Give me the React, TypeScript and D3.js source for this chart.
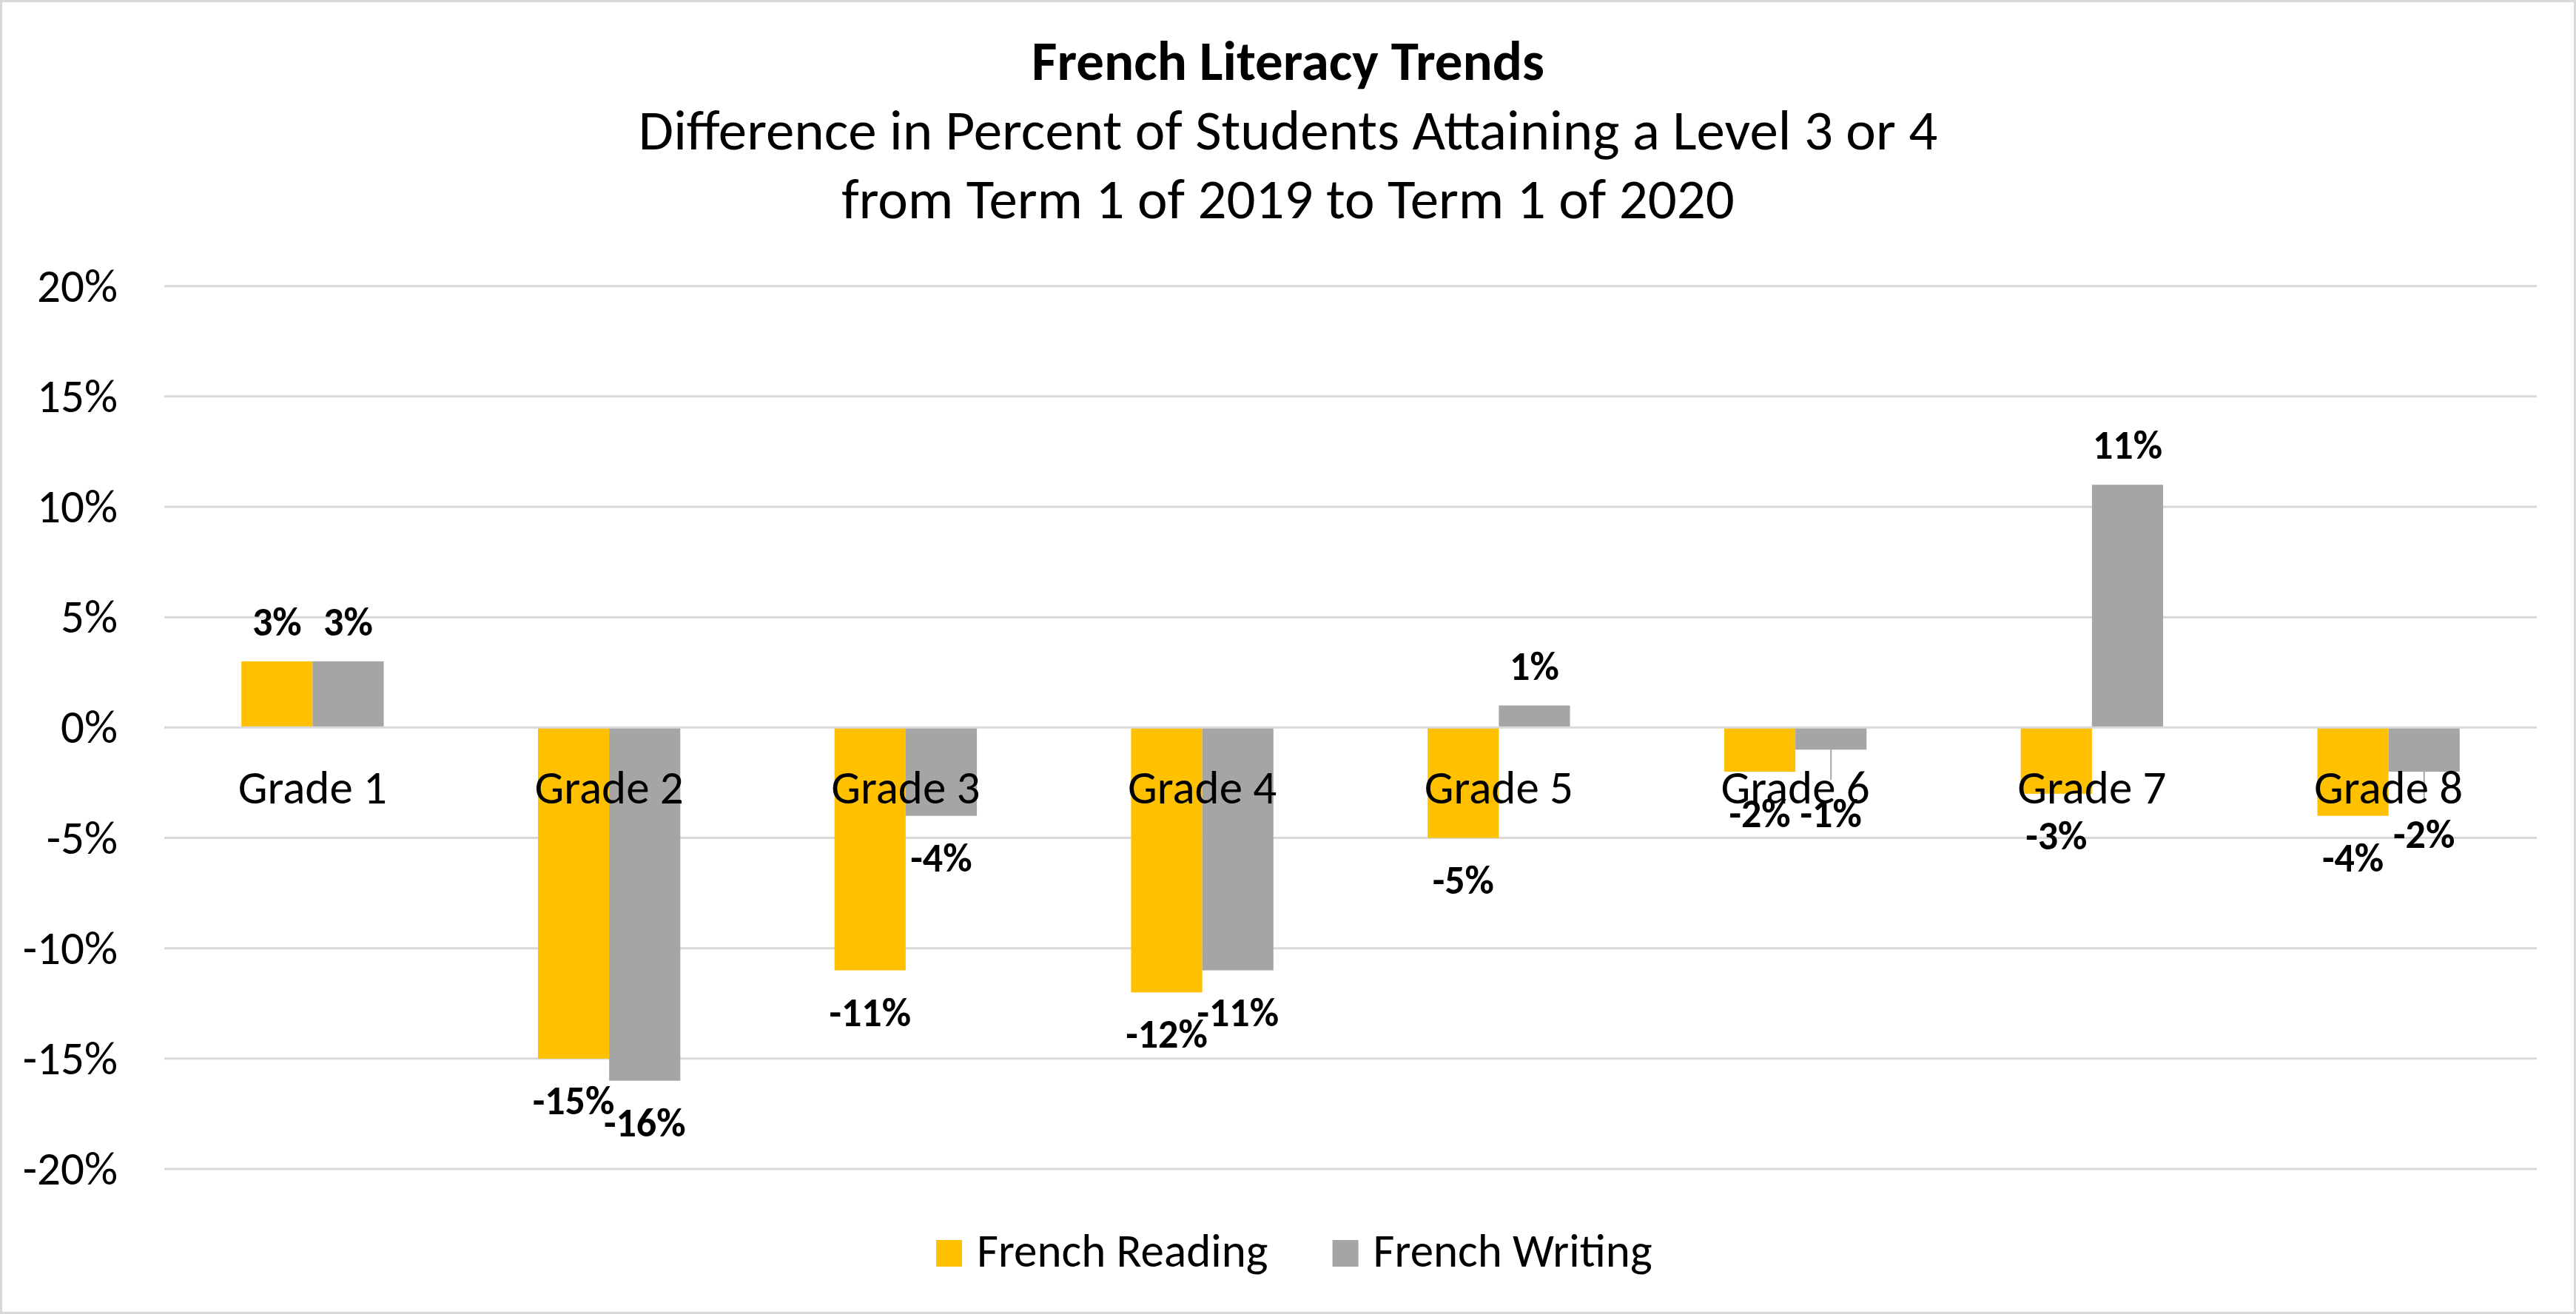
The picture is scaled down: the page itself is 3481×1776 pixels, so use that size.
import React from "react";
import * as d3 from "d3";

const categories = [
  "Grade 1",
  "Grade 2",
  "Grade 3",
  "Grade 4",
  "Grade 5",
  "Grade 6",
  "Grade 7",
  "Grade 8",
];
const seriesNames = ["French Reading", "French Writing"];
const frenchReading = [3, -15, -11, -12, -5, -2, -3, -4];
const frenchWriting = [3, -16, -4, -11, 1, -1, 11, -2];
const yTicks = [-20, -15, -10, -5, 0, 5, 10, 15, 20];
const titleLines = [
  "Difference in Percent of Students Attaining a Level 3 or 4",
  "from Term 1 of 2019 to Term 1 of 2020",
];

const W = 3481;
const H = 1776;
const FONT = "Carlito, Lato, sans-serif";
const colors = ["#FFC000", "#A5A5A5"];

// labels that Excel had dragged down (with leader lines)
const labelNudge: Record<string, number> = {
  "Grade 6|French Writing": 30,
  "Grade 8|French Writing": 28,
};

const App = () => {
  const x = d3
    .scaleBand()
    .domain(categories)
    .range([222, 3428])
    .paddingInner(0.52)
    .paddingOuter(0.26);
  const xSub = d3
    .scaleBand()
    .domain(seriesNames)
    .range([0, x.bandwidth()]);
  const y = d3.scaleLinear().domain([-20, 20]).range([1580, 386.7]);

  const series = [frenchReading, frenchWriting];
  const bars = categories.flatMap((cat, i) =>
    seriesNames.map((s, j) => ({ cat, s, j, v: series[j][i] }))
  );
  const barCenter = (b: { cat: string; s: string }) =>
    (x(b.cat) ?? 0) + (xSub(b.s) ?? 0) + xSub.bandwidth() / 2;

  return (
    <svg
      width={W}
      height={H}
      style={{ position: "absolute", left: 0, top: 0 }}
      fontFamily={FONT}
    >
      <rect x={0} y={0} width={W} height={H} fill="#fff" />
      <rect
        x={1.5}
        y={1.5}
        width={W - 3}
        height={H - 3}
        fill="none"
        stroke="#D9D9D9"
        strokeWidth={3}
      />

      {/* titles */}
      <text
        x={W / 2}
        y={108}
        textAnchor="middle"
        fontSize={75}
        fontWeight="bold"
      >
        French Literacy Trends
      </text>
      {titleLines.map((t, i) => (
        <text key={t} x={W / 2} y={201.5 + i * 93.5} textAnchor="middle" fontSize={77}>
          {t}
        </text>
      ))}

      {/* gridlines */}
      {yTicks
        .filter((t) => t !== 0)
        .map((t) => (
          <line
            key={t}
            x1={222}
            x2={3428}
            y1={y(t)}
            y2={y(t)}
            stroke="#D9D9D9"
            strokeWidth={3}
          />
        ))}

      {/* y tick labels */}
      {yTicks.map((t) => (
        <text key={t} x={159} y={y(t) + 21} textAnchor="end" fontSize={63}>
          {`${t}%`}
        </text>
      ))}

      {/* bars */}
      {bars.map((b) => (
        <rect
          key={b.cat + b.s}
          x={(x(b.cat) ?? 0) + (xSub(b.s) ?? 0)}
          y={Math.min(y(b.v), y(0))}
          width={xSub.bandwidth()}
          height={Math.abs(y(b.v) - y(0))}
          fill={colors[b.j]}
        />
      ))}

      {/* horizontal axis line */}
      <line x1={222} x2={3428} y1={y(0)} y2={y(0)} stroke="#D9D9D9" strokeWidth={3} />

      {/* leader lines */}
      {bars
        .filter((b) => labelNudge[`${b.cat}|${b.s}`])
        .map((b) => {
          const base = y(b.v) + 75 + labelNudge[`${b.cat}|${b.s}`];
          return (
            <line
              key={"ll" + b.cat + b.s}
              x1={barCenter(b)}
              x2={barCenter(b)}
              y1={y(b.v)}
              y2={base - 64}
              stroke="#A6A6A6"
              strokeWidth={2}
            />
          );
        })}

      {/* category labels */}
      {categories.map((c) => (
        <text
          key={c}
          x={(x(c) ?? 0) + x.bandwidth() / 2}
          y={1086}
          textAnchor="middle"
          fontSize={63}
        >
          {c}
        </text>
      ))}

      {/* data labels */}
      {bars.map((b) => {
        const nudge = labelNudge[`${b.cat}|${b.s}`] ?? 0;
        const ly = b.v >= 0 ? y(b.v) - 35 : y(b.v) + 75 + nudge;
        return (
          <text
            key={"lb" + b.cat + b.s}
            x={barCenter(b)}
            y={ly}
            textAnchor="middle"
            fontSize={54}
            fontWeight="bold"
          >
            {`${b.v}%`}
          </text>
        );
      })}

      {/* legend */}
      {seriesNames.map((s, j) => {
        const lx = [1265, 1800.6][j];
        return (
          <g key={s}>
            <rect x={lx} y={1676} width={35} height={36} fill={colors[j]} />
            <text x={lx + 55} y={1711.7} fontSize={63}>
              {s}
            </text>
          </g>
        );
      })}
    </svg>
  );
};

export default App;
